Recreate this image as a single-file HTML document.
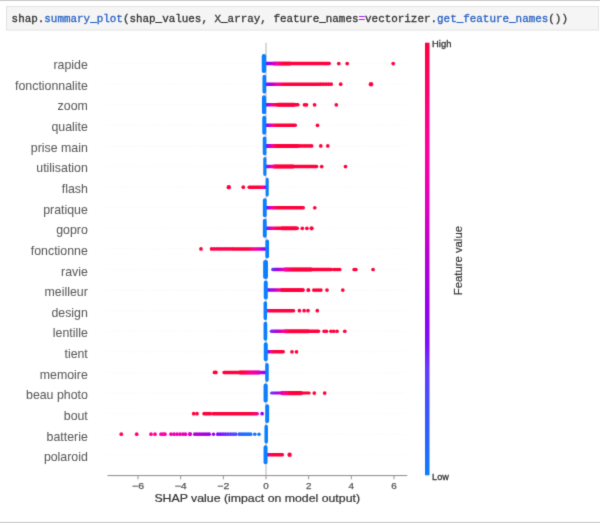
<!DOCTYPE html>
<html><head><meta charset="utf-8"><style>
html,body{margin:0;padding:0;background:#fff;width:600px;height:523px;overflow:hidden}
svg{display:block;font-family:"Liberation Sans",sans-serif}
</style></head><body>
<svg width="600" height="523" viewBox="0 0 600 523">
<defs><filter id="bl" filterUnits="userSpaceOnUse" x="0" y="0" width="600" height="523" color-interpolation-filters="sRGB"><feConvolveMatrix order="3" kernelMatrix="0.0144 0.0912 0.0144 0.0912 0.5776 0.0912 0.0144 0.0912 0.0144" edgeMode="duplicate"/></filter><linearGradient id="g1" gradientUnits="userSpaceOnUse" x1="266.5" y1="0" x2="283" y2="0"><stop offset="0.0000" stop-color="#7a10ff"/><stop offset="0.3333" stop-color="#b400d4"/><stop offset="0.6364" stop-color="#ff00a0"/><stop offset="1.0000" stop-color="#ff003c"/></linearGradient><linearGradient id="g2" gradientUnits="userSpaceOnUse" x1="266.5" y1="0" x2="283" y2="0"><stop offset="0.0000" stop-color="#7a10ff"/><stop offset="0.3333" stop-color="#b400d4"/><stop offset="0.6364" stop-color="#ff00a0"/><stop offset="1.0000" stop-color="#ff003c"/></linearGradient><linearGradient id="g3" gradientUnits="userSpaceOnUse" x1="266.5" y1="0" x2="284" y2="0"><stop offset="0.0000" stop-color="#7a10ff"/><stop offset="0.3143" stop-color="#b400d4"/><stop offset="0.6571" stop-color="#ff00a0"/><stop offset="1.0000" stop-color="#ff003c"/></linearGradient><linearGradient id="g4" gradientUnits="userSpaceOnUse" x1="266.5" y1="0" x2="276.5" y2="0"><stop offset="0.0000" stop-color="#7a10ff"/><stop offset="0.3000" stop-color="#c600cc"/><stop offset="0.6000" stop-color="#ff008e"/><stop offset="1.0000" stop-color="#ff003c"/></linearGradient><linearGradient id="g5" gradientUnits="userSpaceOnUse" x1="266.5" y1="0" x2="276.5" y2="0"><stop offset="0.0000" stop-color="#7a10ff"/><stop offset="0.3000" stop-color="#c600cc"/><stop offset="0.6000" stop-color="#ff008e"/><stop offset="1.0000" stop-color="#ff003c"/></linearGradient><linearGradient id="g6" gradientUnits="userSpaceOnUse" x1="266.5" y1="0" x2="276.5" y2="0"><stop offset="0.0000" stop-color="#7a10ff"/><stop offset="0.3000" stop-color="#c600cc"/><stop offset="0.6000" stop-color="#ff008e"/><stop offset="1.0000" stop-color="#ff003c"/></linearGradient><linearGradient id="g7" gradientUnits="userSpaceOnUse" x1="266.6" y1="0" x2="276.6" y2="0"><stop offset="0.0000" stop-color="#7a10ff"/><stop offset="0.3000" stop-color="#c600cc"/><stop offset="0.6000" stop-color="#ff008e"/><stop offset="1.0000" stop-color="#ff003c"/></linearGradient><linearGradient id="g8" gradientUnits="userSpaceOnUse" x1="266.6" y1="0" x2="276.6" y2="0"><stop offset="0.0000" stop-color="#7a10ff"/><stop offset="0.3000" stop-color="#c600cc"/><stop offset="0.6000" stop-color="#ff008e"/><stop offset="1.0000" stop-color="#ff003c"/></linearGradient><linearGradient id="g9" gradientUnits="userSpaceOnUse" x1="266.6" y1="0" x2="276.6" y2="0"><stop offset="0.0000" stop-color="#7a10ff"/><stop offset="0.3000" stop-color="#c600cc"/><stop offset="0.6000" stop-color="#ff008e"/><stop offset="1.0000" stop-color="#ff003c"/></linearGradient><linearGradient id="g10" gradientUnits="userSpaceOnUse" x1="259" y1="0" x2="265.5" y2="0"><stop offset="0.0000" stop-color="#ff003c"/><stop offset="0.6154" stop-color="#ff008e"/><stop offset="1.0000" stop-color="#9800ea"/></linearGradient><linearGradient id="g11" gradientUnits="userSpaceOnUse" x1="266.9" y1="0" x2="276.9" y2="0"><stop offset="0.0000" stop-color="#7a10ff"/><stop offset="0.3000" stop-color="#c600cc"/><stop offset="0.6000" stop-color="#ff008e"/><stop offset="1.0000" stop-color="#ff003c"/></linearGradient><linearGradient id="g12" gradientUnits="userSpaceOnUse" x1="266.9" y1="0" x2="276.9" y2="0"><stop offset="0.0000" stop-color="#7a10ff"/><stop offset="0.3000" stop-color="#c600cc"/><stop offset="0.6000" stop-color="#ff008e"/><stop offset="1.0000" stop-color="#ff003c"/></linearGradient><linearGradient id="g13" gradientUnits="userSpaceOnUse" x1="266.9" y1="0" x2="276.9" y2="0"><stop offset="0.0000" stop-color="#7a10ff"/><stop offset="0.3000" stop-color="#c600cc"/><stop offset="0.6000" stop-color="#ff008e"/><stop offset="1.0000" stop-color="#ff003c"/></linearGradient><linearGradient id="g14" gradientUnits="userSpaceOnUse" x1="248" y1="0" x2="265" y2="0"><stop offset="0.0000" stop-color="#ff003c"/><stop offset="0.3529" stop-color="#ff008e"/><stop offset="0.6471" stop-color="#d900c3"/><stop offset="1.0000" stop-color="#8a05f4"/></linearGradient><linearGradient id="g15" gradientUnits="userSpaceOnUse" x1="271.1" y1="0" x2="293" y2="0"><stop offset="0.0000" stop-color="#4f47ff"/><stop offset="0.2694" stop-color="#9800ea"/><stop offset="0.6347" stop-color="#ff00a0"/><stop offset="1.0000" stop-color="#ff003c"/></linearGradient><linearGradient id="g16" gradientUnits="userSpaceOnUse" x1="271.1" y1="0" x2="293" y2="0"><stop offset="0.0000" stop-color="#4f47ff"/><stop offset="0.2694" stop-color="#9800ea"/><stop offset="0.6347" stop-color="#ff00a0"/><stop offset="1.0000" stop-color="#ff003c"/></linearGradient><linearGradient id="g17" gradientUnits="userSpaceOnUse" x1="268" y1="0" x2="286" y2="0"><stop offset="0.0000" stop-color="#7a10ff"/><stop offset="0.3333" stop-color="#b400d4"/><stop offset="0.6667" stop-color="#ff008e"/><stop offset="1.0000" stop-color="#ff003c"/></linearGradient><linearGradient id="g18" gradientUnits="userSpaceOnUse" x1="267.3" y1="0" x2="271" y2="0"><stop offset="0.0000" stop-color="#f300ac"/><stop offset="1.0000" stop-color="#ff003c"/></linearGradient><linearGradient id="g19" gradientUnits="userSpaceOnUse" x1="269.7" y1="0" x2="290" y2="0"><stop offset="0.0000" stop-color="#6838ff"/><stop offset="0.3596" stop-color="#b400d4"/><stop offset="0.7044" stop-color="#ff008e"/><stop offset="1.0000" stop-color="#ff003c"/></linearGradient><linearGradient id="g20" gradientUnits="userSpaceOnUse" x1="269.7" y1="0" x2="290" y2="0"><stop offset="0.0000" stop-color="#6838ff"/><stop offset="0.3596" stop-color="#b400d4"/><stop offset="0.7044" stop-color="#ff008e"/><stop offset="1.0000" stop-color="#ff003c"/></linearGradient><linearGradient id="g21" gradientUnits="userSpaceOnUse" x1="268" y1="0" x2="274" y2="0"><stop offset="0.0000" stop-color="#8a05f4"/><stop offset="0.5000" stop-color="#ff008e"/><stop offset="1.0000" stop-color="#ff003c"/></linearGradient><linearGradient id="g22" gradientUnits="userSpaceOnUse" x1="242" y1="0" x2="265" y2="0"><stop offset="0.0000" stop-color="#ff003c"/><stop offset="0.3913" stop-color="#ff008e"/><stop offset="0.6957" stop-color="#d900c3"/><stop offset="1.0000" stop-color="#8a05f4"/></linearGradient><linearGradient id="g23" gradientUnits="userSpaceOnUse" x1="242" y1="0" x2="265" y2="0"><stop offset="0.0000" stop-color="#ff003c"/><stop offset="0.3913" stop-color="#ff008e"/><stop offset="0.6957" stop-color="#d900c3"/><stop offset="1.0000" stop-color="#8a05f4"/></linearGradient><linearGradient id="g24" gradientUnits="userSpaceOnUse" x1="270" y1="0" x2="290" y2="0"><stop offset="0.0000" stop-color="#6838ff"/><stop offset="0.4000" stop-color="#a600df"/><stop offset="0.7000" stop-color="#ff00a0"/><stop offset="1.0000" stop-color="#ff003c"/></linearGradient><linearGradient id="g25" gradientUnits="userSpaceOnUse" x1="270" y1="0" x2="290" y2="0"><stop offset="0.0000" stop-color="#6838ff"/><stop offset="0.4000" stop-color="#a600df"/><stop offset="0.7000" stop-color="#ff00a0"/><stop offset="1.0000" stop-color="#ff003c"/></linearGradient><linearGradient id="g26" gradientUnits="userSpaceOnUse" x1="251" y1="0" x2="259" y2="0"><stop offset="0.0000" stop-color="#ff003c"/><stop offset="1.0000" stop-color="#f300ac"/></linearGradient><linearGradient id="g27" gradientUnits="userSpaceOnUse" x1="267.8" y1="0" x2="272" y2="0"><stop offset="0.0000" stop-color="#b400d4"/><stop offset="0.5238" stop-color="#ff0067"/><stop offset="1.0000" stop-color="#ff003c"/></linearGradient><linearGradient id="cb" x1="0" y1="0" x2="0" y2="1"><stop offset="0.000" stop-color="#ff003c"/><stop offset="0.025" stop-color="#ff0047"/><stop offset="0.050" stop-color="#ff0052"/><stop offset="0.075" stop-color="#ff005c"/><stop offset="0.100" stop-color="#ff0067"/><stop offset="0.125" stop-color="#ff0072"/><stop offset="0.150" stop-color="#ff007b"/><stop offset="0.175" stop-color="#ff0084"/><stop offset="0.200" stop-color="#ff008e"/><stop offset="0.225" stop-color="#ff0097"/><stop offset="0.250" stop-color="#ff00a0"/><stop offset="0.275" stop-color="#f900a6"/><stop offset="0.300" stop-color="#f300ac"/><stop offset="0.325" stop-color="#ed00b2"/><stop offset="0.350" stop-color="#e700b9"/><stop offset="0.375" stop-color="#e100bf"/><stop offset="0.400" stop-color="#d900c3"/><stop offset="0.425" stop-color="#cf00c8"/><stop offset="0.450" stop-color="#c600cc"/><stop offset="0.475" stop-color="#bd00d0"/><stop offset="0.500" stop-color="#b400d4"/><stop offset="0.525" stop-color="#ad00d9"/><stop offset="0.550" stop-color="#a600df"/><stop offset="0.575" stop-color="#9f00e4"/><stop offset="0.600" stop-color="#9800ea"/><stop offset="0.625" stop-color="#9100ef"/><stop offset="0.650" stop-color="#8a05f4"/><stop offset="0.675" stop-color="#820afa"/><stop offset="0.700" stop-color="#7a10ff"/><stop offset="0.725" stop-color="#7124ff"/><stop offset="0.750" stop-color="#6838ff"/><stop offset="0.775" stop-color="#5c40ff"/><stop offset="0.800" stop-color="#4f47ff"/><stop offset="0.825" stop-color="#434eff"/><stop offset="0.850" stop-color="#3b54ff"/><stop offset="0.875" stop-color="#3559ff"/><stop offset="0.900" stop-color="#2f5eff"/><stop offset="0.925" stop-color="#2864ff"/><stop offset="0.950" stop-color="#1e6dff"/><stop offset="0.975" stop-color="#1476ff"/><stop offset="1.000" stop-color="#0a7fff"/></linearGradient></defs><g filter="url(#bl)"><rect x="0" y="0" width="600" height="523" fill="#fff"/>
<rect x="0" y="0" width="600" height="1" fill="#c8c8c8"/>
<rect x="0" y="522" width="600" height="1" fill="#c8c8c8"/>
<rect x="6.5" y="6.5" width="592" height="23.5" fill="#f5f5f5" stroke="#e2e2e2" stroke-width="1"/>
<text x="11.6" y="21.5" font-family="Liberation Mono, monospace" font-size="10.92" stroke-width="0.3" xml:space="preserve"><tspan fill="#333" stroke="#333">shap.</tspan><tspan fill="#2a62c4" stroke="#2a62c4">summary_plot</tspan><tspan fill="#333" stroke="#333">(shap_values, X_array, feature_names</tspan><tspan fill="#aa22ff" stroke="#aa22ff">=</tspan><tspan fill="#333" stroke="#333">vectorizer.</tspan><tspan fill="#2a62c4" stroke="#2a62c4">get_feature_names</tspan><tspan fill="#333" stroke="#333">())</tspan></text>
<line x1="107" y1="63.60" x2="405" y2="63.60" stroke="#eeeeee" stroke-width="0.6" stroke-dasharray="1 1.8"/>
<line x1="107" y1="84.19" x2="405" y2="84.19" stroke="#eeeeee" stroke-width="0.6" stroke-dasharray="1 1.8"/>
<line x1="107" y1="104.78" x2="405" y2="104.78" stroke="#eeeeee" stroke-width="0.6" stroke-dasharray="1 1.8"/>
<line x1="107" y1="125.37" x2="405" y2="125.37" stroke="#eeeeee" stroke-width="0.6" stroke-dasharray="1 1.8"/>
<line x1="107" y1="145.96" x2="405" y2="145.96" stroke="#eeeeee" stroke-width="0.6" stroke-dasharray="1 1.8"/>
<line x1="107" y1="166.55" x2="405" y2="166.55" stroke="#eeeeee" stroke-width="0.6" stroke-dasharray="1 1.8"/>
<line x1="107" y1="187.14" x2="405" y2="187.14" stroke="#eeeeee" stroke-width="0.6" stroke-dasharray="1 1.8"/>
<line x1="107" y1="207.73" x2="405" y2="207.73" stroke="#eeeeee" stroke-width="0.6" stroke-dasharray="1 1.8"/>
<line x1="107" y1="228.32" x2="405" y2="228.32" stroke="#eeeeee" stroke-width="0.6" stroke-dasharray="1 1.8"/>
<line x1="107" y1="248.91" x2="405" y2="248.91" stroke="#eeeeee" stroke-width="0.6" stroke-dasharray="1 1.8"/>
<line x1="107" y1="269.50" x2="405" y2="269.50" stroke="#eeeeee" stroke-width="0.6" stroke-dasharray="1 1.8"/>
<line x1="107" y1="290.09" x2="405" y2="290.09" stroke="#eeeeee" stroke-width="0.6" stroke-dasharray="1 1.8"/>
<line x1="107" y1="310.68" x2="405" y2="310.68" stroke="#eeeeee" stroke-width="0.6" stroke-dasharray="1 1.8"/>
<line x1="107" y1="331.27" x2="405" y2="331.27" stroke="#eeeeee" stroke-width="0.6" stroke-dasharray="1 1.8"/>
<line x1="107" y1="351.86" x2="405" y2="351.86" stroke="#eeeeee" stroke-width="0.6" stroke-dasharray="1 1.8"/>
<line x1="107" y1="372.45" x2="405" y2="372.45" stroke="#eeeeee" stroke-width="0.6" stroke-dasharray="1 1.8"/>
<line x1="107" y1="393.04" x2="405" y2="393.04" stroke="#eeeeee" stroke-width="0.6" stroke-dasharray="1 1.8"/>
<line x1="107" y1="413.63" x2="405" y2="413.63" stroke="#eeeeee" stroke-width="0.6" stroke-dasharray="1 1.8"/>
<line x1="107" y1="434.22" x2="405" y2="434.22" stroke="#eeeeee" stroke-width="0.6" stroke-dasharray="1 1.8"/>
<line x1="107" y1="454.81" x2="405" y2="454.81" stroke="#eeeeee" stroke-width="0.6" stroke-dasharray="1 1.8"/>
<line x1="266" y1="42.8" x2="266" y2="475.5" stroke="#b4b4b4" stroke-width="1"/>
<rect x="264.00" y="61.85" width="67.00" height="3.50" rx="1.75" fill="url(#g1)"/>
<rect x="272.00" y="61.68" width="20.00" height="3.85" rx="1.93" fill="url(#g2)"/>
<circle cx="338.80" cy="63.60" r="1.85" fill="#ff003c"/>
<circle cx="347.20" cy="63.60" r="1.85" fill="#ff003c"/>
<circle cx="393.20" cy="63.60" r="1.85" fill="#ff003c"/>
<rect x="261.75" y="54.10" width="4.40" height="19.0" rx="2.1" fill="#0a7fff"/>
<rect x="264.00" y="82.44" width="57.00" height="3.50" rx="1.75" fill="url(#g3)"/>
<circle cx="320.85" cy="84.19" r="1.85" fill="#ff003c"/>
<circle cx="323.43" cy="84.19" r="1.85" fill="#ff003c"/>
<circle cx="326.00" cy="84.19" r="1.85" fill="#ff003c"/>
<circle cx="328.58" cy="84.19" r="1.85" fill="#ff003c"/>
<circle cx="331.15" cy="84.19" r="1.85" fill="#ff003c"/>
<circle cx="340.70" cy="84.19" r="1.85" fill="#ff003c"/>
<circle cx="371.00" cy="84.19" r="2.3" fill="#ff003c"/>
<rect x="262.45" y="74.69" width="3.70" height="19.0" rx="2.1" fill="#0a7fff"/>
<rect x="264.00" y="103.03" width="35.70" height="3.50" rx="1.75" fill="url(#g4)"/>
<rect x="276.00" y="102.86" width="20.00" height="3.85" rx="1.93" fill="url(#g5)"/>
<circle cx="304.50" cy="104.78" r="1.85" fill="#ff003c"/>
<circle cx="306.50" cy="104.78" r="1.85" fill="#ff003c"/>
<circle cx="314.60" cy="104.78" r="1.85" fill="#ff003c"/>
<circle cx="336.30" cy="104.78" r="1.85" fill="#ff003c"/>
<rect x="261.95" y="95.28" width="4.20" height="19.0" rx="2.1" fill="#0a7fff"/>
<rect x="264.00" y="123.62" width="33.00" height="3.50" rx="1.75" fill="url(#g6)"/>
<circle cx="317.50" cy="125.37" r="1.85" fill="#ff003c"/>
<rect x="262.25" y="115.87" width="3.90" height="19.0" rx="2.1" fill="#0a7fff"/>
<rect x="264.00" y="144.01" width="36.00" height="3.90" rx="1.95" fill="url(#g7)"/>
<circle cx="299.85" cy="145.96" r="1.85" fill="#ff003c"/>
<circle cx="302.21" cy="145.96" r="1.85" fill="#ff003c"/>
<circle cx="304.57" cy="145.96" r="1.85" fill="#ff003c"/>
<circle cx="306.93" cy="145.96" r="1.85" fill="#ff003c"/>
<circle cx="309.29" cy="145.96" r="1.85" fill="#ff003c"/>
<circle cx="311.65" cy="145.96" r="1.85" fill="#ff003c"/>
<circle cx="320.80" cy="145.96" r="1.85" fill="#ff003c"/>
<circle cx="327.80" cy="145.96" r="1.85" fill="#ff003c"/>
<rect x="262.75" y="136.46" width="3.60" height="19.0" rx="2.1" fill="#0a7fff"/>
<rect x="264.00" y="164.80" width="54.30" height="3.50" rx="1.75" fill="url(#g8)"/>
<rect x="272.00" y="164.62" width="23.00" height="3.85" rx="1.93" fill="url(#g9)"/>
<circle cx="321.70" cy="166.55" r="1.85" fill="#ff003c"/>
<circle cx="345.50" cy="166.55" r="1.85" fill="#ff003c"/>
<rect x="263.25" y="157.05" width="3.10" height="19.0" rx="2.1" fill="#0a7fff"/>
<rect x="247.40" y="185.39" width="19.60" height="3.50" rx="1.75" fill="url(#g10)"/>
<circle cx="228.80" cy="187.14" r="2.2" fill="#ff003c"/>
<circle cx="243.30" cy="187.14" r="1.85" fill="#ff003c"/>
<rect x="265.75" y="177.64" width="3.00" height="19.0" rx="2.1" fill="#0a7fff"/>
<rect x="264.00" y="205.98" width="41.00" height="3.50" rx="1.75" fill="url(#g11)"/>
<circle cx="314.80" cy="207.73" r="1.85" fill="#ff003c"/>
<rect x="262.85" y="198.23" width="3.80" height="19.0" rx="2.1" fill="#0a7fff"/>
<rect x="264.00" y="226.57" width="35.00" height="3.50" rx="1.75" fill="url(#g12)"/>
<rect x="280.00" y="226.39" width="18.00" height="3.85" rx="1.93" fill="url(#g13)"/>
<circle cx="302.30" cy="228.32" r="1.85" fill="#ff003c"/>
<circle cx="306.90" cy="228.32" r="1.85" fill="#ff003c"/>
<circle cx="311.60" cy="228.32" r="2.1" fill="#ff003c"/>
<rect x="262.85" y="218.82" width="3.80" height="19.0" rx="2.1" fill="#0a7fff"/>
<rect x="232.00" y="247.16" width="35.00" height="3.50" rx="1.75" fill="url(#g14)"/>
<circle cx="211.55" cy="248.91" r="1.85" fill="#ff0049"/>
<circle cx="214.12" cy="248.91" r="1.85" fill="#ff0049"/>
<circle cx="216.70" cy="248.91" r="1.85" fill="#ff0049"/>
<circle cx="219.27" cy="248.91" r="1.85" fill="#ff0049"/>
<circle cx="221.85" cy="248.91" r="1.85" fill="#ff0049"/>
<circle cx="224.42" cy="248.91" r="1.85" fill="#ff0049"/>
<circle cx="227.00" cy="248.91" r="1.85" fill="#ff0049"/>
<circle cx="229.57" cy="248.91" r="1.85" fill="#ff0049"/>
<circle cx="232.15" cy="248.91" r="1.85" fill="#ff0049"/>
<circle cx="201.00" cy="248.91" r="1.85" fill="#ff003c"/>
<rect x="265.45" y="239.41" width="3.60" height="19.0" rx="2.1" fill="#0a7fff"/>
<rect x="271.10" y="267.75" width="61.90" height="3.50" rx="1.75" fill="url(#g15)"/>
<rect x="283.00" y="267.60" width="30.00" height="3.80" rx="1.90" fill="url(#g16)"/>
<circle cx="333.85" cy="269.50" r="1.85" fill="#ff003c"/>
<circle cx="335.78" cy="269.50" r="1.85" fill="#ff003c"/>
<circle cx="337.72" cy="269.50" r="1.85" fill="#ff003c"/>
<circle cx="339.65" cy="269.50" r="1.85" fill="#ff003c"/>
<circle cx="354.15" cy="269.50" r="1.85" fill="#ff003c"/>
<circle cx="355.85" cy="269.50" r="1.85" fill="#ff003c"/>
<circle cx="373.10" cy="269.50" r="1.85" fill="#ff003c"/>
<rect x="263.15" y="260.00" width="4.80" height="19.0" rx="2.1" fill="#0a7fff"/>
<rect x="266.00" y="288.34" width="38.70" height="3.50" rx="1.75" fill="url(#g17)"/>
<rect x="280.00" y="288.19" width="24.70" height="3.80" rx="1.90" fill="#ff003c"/>
<circle cx="308.55" cy="290.09" r="1.85" fill="#ff003c"/>
<circle cx="308.15" cy="290.09" r="1.85" fill="#ff003c"/>
<circle cx="313.85" cy="290.09" r="1.85" fill="#ff003c"/>
<circle cx="316.18" cy="290.09" r="1.85" fill="#ff003c"/>
<circle cx="318.52" cy="290.09" r="1.85" fill="#ff003c"/>
<circle cx="320.85" cy="290.09" r="1.85" fill="#ff003c"/>
<circle cx="327.00" cy="290.09" r="1.85" fill="#ff003c"/>
<circle cx="342.80" cy="290.09" r="1.85" fill="#ff003c"/>
<rect x="263.75" y="280.59" width="4.00" height="19.0" rx="2.1" fill="#0a7fff"/>
<rect x="265.00" y="308.93" width="30.30" height="3.50" rx="1.75" fill="url(#g18)"/>
<circle cx="299.40" cy="310.68" r="1.85" fill="#ff003c"/>
<circle cx="304.10" cy="310.68" r="1.85" fill="#ff003c"/>
<circle cx="308.00" cy="310.68" r="1.85" fill="#ff003c"/>
<circle cx="317.30" cy="310.68" r="1.85" fill="#ff003c"/>
<rect x="263.55" y="301.18" width="3.50" height="19.0" rx="2.1" fill="#0a7fff"/>
<rect x="269.70" y="329.52" width="50.60" height="3.50" rx="1.75" fill="url(#g19)"/>
<rect x="283.00" y="329.40" width="27.00" height="3.75" rx="1.88" fill="url(#g20)"/>
<circle cx="324.15" cy="331.27" r="1.85" fill="#ff003c"/>
<circle cx="326.45" cy="331.27" r="1.85" fill="#ff003c"/>
<circle cx="331.00" cy="331.27" r="1.85" fill="#ff003c"/>
<circle cx="333.70" cy="331.27" r="1.85" fill="#ff003c"/>
<circle cx="337.00" cy="331.27" r="1.85" fill="#ff003c"/>
<circle cx="344.80" cy="331.27" r="1.85" fill="#ff003c"/>
<rect x="263.55" y="321.77" width="3.70" height="19.0" rx="2.1" fill="#0a7fff"/>
<rect x="266.00" y="350.11" width="19.00" height="3.50" rx="1.75" fill="url(#g21)"/>
<circle cx="292.00" cy="351.86" r="1.85" fill="#ff003c"/>
<circle cx="296.50" cy="351.86" r="1.85" fill="#ff003c"/>
<rect x="263.75" y="342.36" width="4.00" height="19.0" rx="2.1" fill="#0a7fff"/>
<rect x="222.30" y="370.70" width="44.70" height="3.50" rx="1.75" fill="url(#g22)"/>
<rect x="238.00" y="370.40" width="23.00" height="4.10" rx="2.05" fill="url(#g23)"/>
<circle cx="214.45" cy="372.45" r="1.85" fill="#ff003c"/>
<circle cx="215.95" cy="372.45" r="1.85" fill="#ff003c"/>
<rect x="265.25" y="362.95" width="3.50" height="19.0" rx="2.1" fill="#0a7fff"/>
<rect x="270.00" y="391.49" width="40.70" height="3.10" rx="1.55" fill="url(#g24)"/>
<rect x="280.00" y="390.89" width="23.00" height="4.30" rx="2.15" fill="url(#g25)"/>
<circle cx="314.30" cy="393.04" r="1.85" fill="#ff003c"/>
<circle cx="324.70" cy="393.04" r="1.85" fill="#ff003c"/>
<rect x="263.55" y="383.54" width="4.20" height="19.0" rx="2.1" fill="#0a7fff"/>
<rect x="211.00" y="411.88" width="48.00" height="3.50" rx="1.75" fill="url(#g26)"/>
<circle cx="204.15" cy="413.63" r="1.85" fill="#ff003c"/>
<circle cx="206.15" cy="413.63" r="1.85" fill="#ff003c"/>
<circle cx="208.15" cy="413.63" r="1.85" fill="#ff003c"/>
<circle cx="210.15" cy="413.63" r="1.85" fill="#ff003c"/>
<circle cx="193.70" cy="413.63" r="1.85" fill="#ff003c"/>
<circle cx="197.00" cy="413.63" r="1.85" fill="#ff003c"/>
<circle cx="262.10" cy="413.63" r="1.85" fill="#8a05f4"/>
<rect x="265.25" y="404.13" width="3.90" height="19.0" rx="2.1" fill="#0a7fff"/>
<circle cx="194.85" cy="434.22" r="1.85" fill="#b400d4"/>
<circle cx="197.23" cy="434.22" r="1.85" fill="#b000d7"/>
<circle cx="199.62" cy="434.22" r="1.85" fill="#ad00da"/>
<circle cx="202.00" cy="434.22" r="1.85" fill="#a900dd"/>
<circle cx="204.38" cy="434.22" r="1.85" fill="#a500df"/>
<circle cx="206.77" cy="434.22" r="1.85" fill="#a200e2"/>
<circle cx="209.15" cy="434.22" r="1.85" fill="#9e00e5"/>
<circle cx="217.85" cy="434.22" r="1.85" fill="#8309f9"/>
<circle cx="220.39" cy="434.22" r="1.85" fill="#7d0efd"/>
<circle cx="222.94" cy="434.22" r="1.85" fill="#7618ff"/>
<circle cx="225.48" cy="434.22" r="1.85" fill="#6f28ff"/>
<circle cx="228.02" cy="434.22" r="1.85" fill="#6838ff"/>
<circle cx="230.56" cy="434.22" r="1.85" fill="#5e3eff"/>
<circle cx="233.11" cy="434.22" r="1.85" fill="#5444ff"/>
<circle cx="235.65" cy="434.22" r="1.85" fill="#4a4aff"/>
<circle cx="239.35" cy="434.22" r="1.85" fill="#2a62ff"/>
<circle cx="241.61" cy="434.22" r="1.85" fill="#2666ff"/>
<circle cx="243.87" cy="434.22" r="1.85" fill="#2269ff"/>
<circle cx="246.13" cy="434.22" r="1.85" fill="#1e6dff"/>
<circle cx="248.39" cy="434.22" r="1.85" fill="#1a70ff"/>
<circle cx="250.65" cy="434.22" r="1.85" fill="#1674ff"/>
<circle cx="121.30" cy="434.22" r="1.85" fill="#ff005f"/>
<circle cx="136.70" cy="434.22" r="1.85" fill="#ff0074"/>
<circle cx="151.00" cy="434.22" r="1.85" fill="#ff008e"/>
<circle cx="155.00" cy="434.22" r="1.85" fill="#ff0091"/>
<circle cx="161.00" cy="434.22" r="1.85" fill="#fd00a2"/>
<circle cx="163.30" cy="434.22" r="1.85" fill="#fd00a2"/>
<circle cx="165.00" cy="434.22" r="1.85" fill="#fa00a5"/>
<circle cx="171.00" cy="434.22" r="1.85" fill="#ee00b1"/>
<circle cx="174.00" cy="434.22" r="1.85" fill="#ee00b1"/>
<circle cx="177.00" cy="434.22" r="1.85" fill="#ec00b4"/>
<circle cx="180.00" cy="434.22" r="1.85" fill="#ec00b4"/>
<circle cx="183.00" cy="434.22" r="1.85" fill="#ea00b6"/>
<circle cx="185.50" cy="434.22" r="1.85" fill="#ea00b6"/>
<circle cx="190.00" cy="434.22" r="2.1" fill="#d900c3"/>
<circle cx="213.50" cy="434.22" r="1.8" fill="#9800ea"/>
<circle cx="254.80" cy="434.22" r="1.8" fill="#1e6dff"/>
<circle cx="259.00" cy="434.22" r="1.8" fill="#0a7fff"/>
<rect x="264.45" y="424.72" width="3.50" height="19.0" rx="2.1" fill="#0a7fff"/>
<rect x="265.00" y="453.06" width="19.10" height="3.50" rx="1.75" fill="url(#g27)"/>
<circle cx="289.60" cy="454.81" r="2.2" fill="#ff003c"/>
<rect x="263.55" y="445.31" width="4.00" height="19.0" rx="2.1" fill="#0a7fff"/>
<line x1="107.5" y1="475.6" x2="407.3" y2="475.6" stroke="#8a8a8a" stroke-width="1"/>
<line x1="138.02" y1="475.6" x2="138.02" y2="479.3" stroke="#8a8a8a" stroke-width="0.9"/>
<text x="138.02" y="488.9" font-size="9" text-anchor="middle" fill="#555" stroke="#555" stroke-width="0.25" textLength="12" lengthAdjust="spacingAndGlyphs">−6</text>
<line x1="180.68" y1="475.6" x2="180.68" y2="479.3" stroke="#8a8a8a" stroke-width="0.9"/>
<text x="180.68" y="488.9" font-size="9" text-anchor="middle" fill="#555" stroke="#555" stroke-width="0.25" textLength="12" lengthAdjust="spacingAndGlyphs">−4</text>
<line x1="223.34" y1="475.6" x2="223.34" y2="479.3" stroke="#8a8a8a" stroke-width="0.9"/>
<text x="223.34" y="488.9" font-size="9" text-anchor="middle" fill="#555" stroke="#555" stroke-width="0.25" textLength="12" lengthAdjust="spacingAndGlyphs">−2</text>
<line x1="266.00" y1="475.6" x2="266.00" y2="479.3" stroke="#8a8a8a" stroke-width="0.9"/>
<text x="266.00" y="488.9" font-size="9" text-anchor="middle" fill="#555" stroke="#555" stroke-width="0.25" textLength="5.5" lengthAdjust="spacingAndGlyphs">0</text>
<line x1="308.66" y1="475.6" x2="308.66" y2="479.3" stroke="#8a8a8a" stroke-width="0.9"/>
<text x="308.66" y="488.9" font-size="9" text-anchor="middle" fill="#555" stroke="#555" stroke-width="0.25" textLength="5.5" lengthAdjust="spacingAndGlyphs">2</text>
<line x1="351.32" y1="475.6" x2="351.32" y2="479.3" stroke="#8a8a8a" stroke-width="0.9"/>
<text x="351.32" y="488.9" font-size="9" text-anchor="middle" fill="#555" stroke="#555" stroke-width="0.25" textLength="5.5" lengthAdjust="spacingAndGlyphs">4</text>
<line x1="393.98" y1="475.6" x2="393.98" y2="479.3" stroke="#8a8a8a" stroke-width="0.9"/>
<text x="393.98" y="488.9" font-size="9" text-anchor="middle" fill="#555" stroke="#555" stroke-width="0.25" textLength="5.5" lengthAdjust="spacingAndGlyphs">6</text>
<text x="257.2" y="502.4" font-size="10.9" text-anchor="middle" fill="#333" stroke="#333" stroke-width="0.2" textLength="205.6" lengthAdjust="spacingAndGlyphs">SHAP value (impact on model output)</text>
<text x="87.8" y="69.20" font-size="12.35" text-anchor="end" fill="#5c5c5c" stroke="#5c5c5c" stroke-width="0.05">rapide</text>
<text x="87.8" y="89.83" font-size="12.35" text-anchor="end" fill="#5c5c5c" stroke="#5c5c5c" stroke-width="0.05">fonctionnalite</text>
<text x="87.8" y="110.46" font-size="12.35" text-anchor="end" fill="#5c5c5c" stroke="#5c5c5c" stroke-width="0.05">zoom</text>
<text x="87.8" y="131.09" font-size="12.35" text-anchor="end" fill="#5c5c5c" stroke="#5c5c5c" stroke-width="0.05">qualite</text>
<text x="87.8" y="151.72" font-size="12.35" text-anchor="end" fill="#5c5c5c" stroke="#5c5c5c" stroke-width="0.05">prise main</text>
<text x="87.8" y="172.35" font-size="12.35" text-anchor="end" fill="#5c5c5c" stroke="#5c5c5c" stroke-width="0.05">utilisation</text>
<text x="87.8" y="192.98" font-size="12.35" text-anchor="end" fill="#5c5c5c" stroke="#5c5c5c" stroke-width="0.05">flash</text>
<text x="87.8" y="213.61" font-size="12.35" text-anchor="end" fill="#5c5c5c" stroke="#5c5c5c" stroke-width="0.05">pratique</text>
<text x="87.8" y="234.24" font-size="12.35" text-anchor="end" fill="#5c5c5c" stroke="#5c5c5c" stroke-width="0.05">gopro</text>
<text x="87.8" y="254.87" font-size="12.35" text-anchor="end" fill="#5c5c5c" stroke="#5c5c5c" stroke-width="0.05">fonctionne</text>
<text x="87.8" y="275.50" font-size="12.35" text-anchor="end" fill="#5c5c5c" stroke="#5c5c5c" stroke-width="0.05">ravie</text>
<text x="87.8" y="296.13" font-size="12.35" text-anchor="end" fill="#5c5c5c" stroke="#5c5c5c" stroke-width="0.05">meilleur</text>
<text x="87.8" y="316.76" font-size="12.35" text-anchor="end" fill="#5c5c5c" stroke="#5c5c5c" stroke-width="0.05">design</text>
<text x="87.8" y="337.39" font-size="12.35" text-anchor="end" fill="#5c5c5c" stroke="#5c5c5c" stroke-width="0.05">lentille</text>
<text x="87.8" y="358.02" font-size="12.35" text-anchor="end" fill="#5c5c5c" stroke="#5c5c5c" stroke-width="0.05">tient</text>
<text x="87.8" y="378.65" font-size="12.35" text-anchor="end" fill="#5c5c5c" stroke="#5c5c5c" stroke-width="0.05">memoire</text>
<text x="87.8" y="399.28" font-size="12.35" text-anchor="end" fill="#5c5c5c" stroke="#5c5c5c" stroke-width="0.05">beau photo</text>
<text x="87.8" y="419.91" font-size="12.35" text-anchor="end" fill="#5c5c5c" stroke="#5c5c5c" stroke-width="0.05">bout</text>
<text x="87.8" y="440.54" font-size="12.35" text-anchor="end" fill="#5c5c5c" stroke="#5c5c5c" stroke-width="0.05">batterie</text>
<text x="87.8" y="461.17" font-size="12.35" text-anchor="end" fill="#5c5c5c" stroke="#5c5c5c" stroke-width="0.05">polaroid</text>
<rect x="425" y="42.7" width="4.5" height="432.6" fill="url(#cb)"/>
<text x="432.1" y="47" font-size="9.4" fill="#333" stroke="#333" stroke-width="0.3">High</text>
<text x="432.1" y="479.7" font-size="9.1" fill="#333" stroke="#333" stroke-width="0.3">Low</text>
<text transform="translate(462,260.6) rotate(-90)" x="0" y="0" font-size="11.3" text-anchor="middle" fill="#333" stroke="#333" stroke-width="0.2">Feature value</text>
</g></svg>
</body></html>
